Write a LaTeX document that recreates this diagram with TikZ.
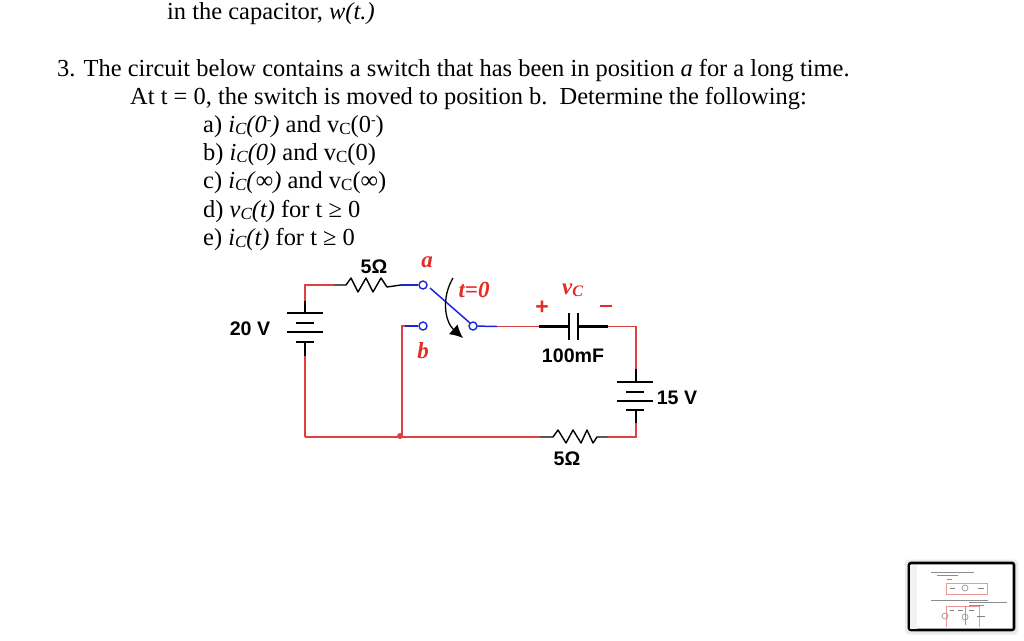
\documentclass[tikz,border=0pt]{standalone}
\usepackage{fontspec}
\setmainfont{Liberation Serif}
\setsansfont{Liberation Sans}
\usepackage{xcolor}
\usetikzlibrary{arrows,arrows.meta,positioning,calc}
\definecolor{wirered}{rgb}{0.87,0.25,0.25}
\definecolor{wireblue}{rgb}{0.1,0.15,0.85}
\definecolor{labelred}{rgb}{0.9,0.17,0.15}
\newcommand{\lo}[1]{\raisebox{-2pt}{\fontsize{17}{17}\selectfont #1}}
\newcommand{\hi}[1]{\raisebox{8pt}{\fontsize{14}{14}\selectfont #1}}

\begin{document}
\begin{tikzpicture}[x=1pt,y=-1pt]
  \tikzset{textline/.style={anchor=base west,inner sep=0pt,font=\fontsize{24.45}{24}\selectfont}}
  \tikzset{partlabel/.style={inner sep=0pt,font=\sffamily\bfseries\fontsize{19.6}{20}\selectfont}}
  \tikzset{redlabel/.style={inner sep=0pt,text=labelred,font=\bfseries\itshape\fontsize{23}{23}\selectfont}}
  \tikzset{terminal/.style={draw=wireblue,circle,fill=white,line width=1.4pt,minimum size=8pt,inner sep=0pt}}
  \tikzset{redwire/.style={draw=wirered,line width=1.5pt}}
  \tikzset{bluewire/.style={draw=wireblue,line width=1.5pt}}
  \tikzset{blackwire/.style={draw=black,line width=1.4pt}}
  \tikzset{capwire/.style={draw=black,line width=2.6pt}}
  \useasboundingbox (0,0) rectangle (1024,640);
  % question text
  \node[textline] (intro) at (167,19.7) {in the capacitor, \textit{w(t.)}};
  \node[textline] (q) at (57,76.7) {3. The circuit below contains a switch that has been in position \textit{a} for a long time.};
  \node[textline] (at) at (130,104.7) {At t = 0, the switch is moved to position b.\ \ Determine the following:};
  \node[textline] (pa) at (203,132.7) {a) \textit{i\lo{C}(0\hi{-})} and v\lo{C}(0\hi{-})};
  \node[textline] (pb) at (203,160.7) {b) \textit{i\lo{C}(0)} and v\lo{C}(0)};
  \node[textline] (pc) at (203,188.7) {c) \textit{i\lo{C}(}∞\textit{)} and v\lo{C}(∞)};
  \node[textline] (pd) at (203,217.7) {d) \textit{v\lo{C}(t)} for t ≥ 0};
  \node[textline] (pe) at (203,245.7) {e) \textit{i\lo{C}(t)} for t ≥ 0};
  % corners and junctions
  \coordinate (tl) at (305,285);
  \coordinate (tr) at (636,326.5);
  \coordinate (bl) at (305,437);
  \coordinate (br) at (636,437);
  \coordinate (jn) at (402,437);
  \coordinate (bc) at (402,326);
  % switch
  \node[terminal] (a) at (423,285) {};
  \node[terminal] (b) at (423,326) {};
  \node[terminal] (c) at (473,326) {};
  \coordinate (swa) at (430,288);
  \coordinate (swc) at (470,323);
  \coordinate (ra) at (401,285);
  \coordinate (bcb) at (405,326);
  \coordinate (cr) at (497,326.5);
  \draw[bluewire] (ra)--(a);
  \draw[bluewire] (bcb)--(b);
  \draw[bluewire] (swa)--(swc);
  \draw[bluewire] (c)--(cr);
  \coordinate (arcs) at (453,278);
  \coordinate (arce) at (463,338);
  \draw[-{Latex[length=13pt,width=13pt]},line width=1.3pt] (arcs) .. controls (441,298) and (445,322) .. (arce);
  % top left resistor
  \coordinate (r1l) at (334,285);
  \draw[redwire] (bl)--(305,356);
  \draw[redwire] (305,301)--(tl)--(r1l);
  \draw[blackwire,line join=round] (r1l)--(346,285)--(351,278)--(358,292)--(366,278)--(373,292)--(381,278)--(387,287)--(ra);
  % left battery
  \draw[blackwire] (305,301)--(305,313);
  \draw[blackwire] (287,313)--(323,313);
  \draw[blackwire] (296,323)--(314,323);
  \draw[blackwire] (287,332)--(323,332);
  \draw[blackwire] (296,342)--(314,342);
  \draw[blackwire] (305,342)--(305,356);
  % capacitor
  \coordinate (cl) at (539,326.5);
  \coordinate (cpl) at (569,326.5);
  \coordinate (cpr) at (578,326.5);
  \coordinate (crt) at (608,326.5);
  \draw[redwire] (cr)--(cl);
  \draw[capwire] (cl)--(cpl);
  \draw[capwire] (cpr)--(crt);
  \draw[capwire] (569,313)--(569,340);
  \draw[capwire] (578,313)--(578,340);
  % right side and bottom
  \draw[redwire] (crt)--(tr)--(636,369);
  \draw[blackwire] (636,369)--(636,382);
  \draw[blackwire] (617,382)--(653,382);
  \draw[blackwire] (626,392)--(644,392);
  \draw[blackwire] (617,401)--(653,401);
  \draw[blackwire] (626,410)--(644,410);
  \draw[blackwire] (636,410)--(636,423);
  \draw[redwire] (636,423)--(br)--(607,437);
  \draw[blackwire,line join=round] (607,437)--(597,437)--(593,443)--(587,430)--(581,443)--(573,430)--(566,443)--(558,430)--(553,437)--(540,437);
  \draw[redwire] (540,437)--(jn)--(bl);
  \draw[redwire] (jn)--(bc)--(bcb);
  \node[fill=wirered,circle,minimum size=6pt,inner sep=0pt] (dot) at (400,436) {};
  % labels
  \node[partlabel] (r1) at (374,267) {5Ω};
  \node[partlabel] (r2) at (567,459) {5Ω};
  \node[partlabel] (v1) at (250,329) {20 V};
  \node[partlabel] (v2) at (677,397.5) {15 V};
  \node[partlabel] (cap) at (573,355.5) {100mF};
  \node[redlabel] (la) at (427,262) {a};
  \node[redlabel] (lb) at (423,351) {b};
  \node[redlabel] (lt) at (474,290) {t=0};
  \node[redlabel] (vc) at (572.5,290) {v\raisebox{-2pt}{\fontsize{16}{16}\selectfont C}};
  \node[inner sep=0pt,text=labelred,font=\sffamily\bfseries\fontsize{23}{23}\selectfont] (plus) at (542,308) {+};
  \draw[draw=labelred,line width=2pt] (600,306)--(612,306);
  % preview in the corner
  \node[draw=black!8,line width=3pt,rounded corners=3pt,minimum width=110pt,minimum height=72pt,inner sep=0pt] (shadow) at (961.5,597) {};
  \node[draw=black,fill=white,line width=2.6pt,rounded corners=2pt,minimum width=105pt,minimum height=67pt,inner sep=0pt] (frame) at (961.5,596.5) {};
  \fill[black!5] (909.5,564.5) rectangle (917,629);
  \foreach \y/\a/\b in {572/931/974,575/937/958,579/947/952,600/931/988,602/969/1007,605/969/984}
    \draw[black!45,line width=0.7pt] (\a,\y)--(\b,\y);
  \draw[wirered!55,line width=0.8pt] (946,583)--(987,583)--(987,594)--(946,594)--cycle;
  \draw[wirered!55,line width=0.8pt] (946,606)--(979,606)--(979,627);
  \draw[wirered!55,line width=0.8pt] (946,606)--(946,627);
  \draw[wireblue!50,line width=0.8pt] (965,606)--(965,625);
  \draw[black!40,line width=0.7pt] (945,616) circle (3pt);
  \draw[black!40,line width=0.7pt] (965,588) circle (3pt);
  \draw[black!40,line width=0.7pt] (965,617) circle (3pt);
  \foreach \y/\a/\b in {588/950/955,588/978/984,610/950/954,610/958/963,610/969/974,616/977/985}
    \draw[black!50,line width=0.8pt] (\a,\y)--(\b,\y);
\end{tikzpicture}
\end{document}
